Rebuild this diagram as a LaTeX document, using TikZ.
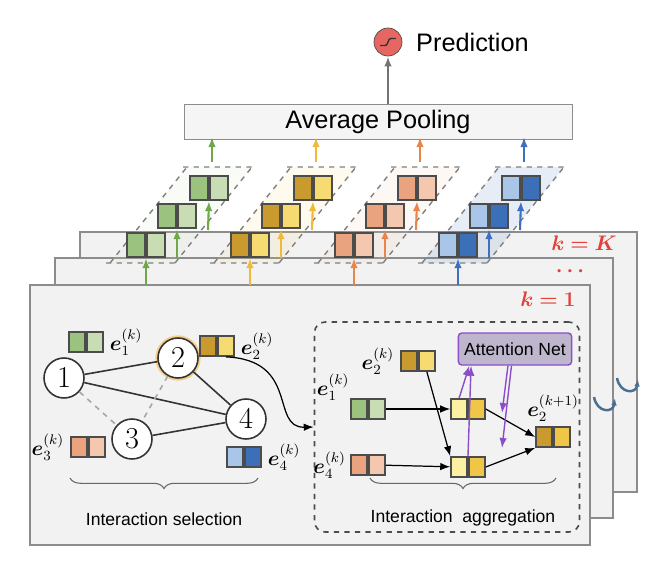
\documentclass[tikz,border=0pt]{standalone}
\usepackage{fontspec}
\setmainfont{Liberation Sans}
\usepackage{amsmath}
\usepackage{bm}
\usetikzlibrary{arrows.meta,positioning,decorations.pathreplacing}

\definecolor{grA}{HTML}{9CC27F}\definecolor{grB}{HTML}{C8DDB3}
\definecolor{ylA}{HTML}{C99A2E}\definecolor{ylB}{HTML}{F6DB72}
\definecolor{orA}{HTML}{E9A47F}\definecolor{orB}{HTML}{F3C8AE}
\definecolor{blA}{HTML}{A9C6E8}\definecolor{blB}{HTML}{3B6FB8}
\definecolor{paleY}{HTML}{FCF0A4}\definecolor{goldY}{HTML}{F0C648}
\definecolor{grArr}{HTML}{6FA84A}\definecolor{ylArr}{HTML}{F0B93A}
\definecolor{orArr}{HTML}{E8864A}\definecolor{blArr}{HTML}{3E6FC0}
\definecolor{purp}{HTML}{8A4FC8}\definecolor{attn}{HTML}{BDB6CC}
\definecolor{kred}{HTML}{E0413A}\definecolor{loopc}{HTML}{4A6F8F}

\tikzset{
  panel/.style={draw=black!45, fill=black!5, line width=0.6pt},
  cell/.style={draw=black!70, line width=1pt, minimum width=0.32cm, minimum height=0.4cm, inner sep=0pt},
  bigcell/.style={cell, line width=1.3pt, minimum width=0.36cm, minimum height=0.48cm},
  vnode/.style={circle, draw=black!80, fill=white, line width=0.9pt, minimum size=0.8cm, inner sep=0pt, font=\LARGE},
  lab/.style={font=\large},
  up/.style={-{Latex[length=2mm]}, line width=1.2pt},
  flow/.style={-{Latex[length=2mm]}, line width=0.7pt},
  attarr/.style={-{Latex[length=2mm]}, line width=0.8pt, draw=purp},
  brace/.style={decorate, decoration={brace, mirror, amplitude=6pt}, draw=black!60, line width=0.6pt}
}

% two-cell embedding: name, centre, left colour, right colour, cell style
\newcommand{\embvec}[5][cell]{%
  \node[#1, fill=#4, anchor=east] (#2-l) at (#3) {};
  \node[#1, fill=#5, right=0pt of #2-l] (#2-r) {};
}

\begin{document}
\begin{tikzpicture}[x=0.02cm, y=-0.02cm]
  \useasboundingbox (0,0) rectangle (654,566);

  % stacked layers
  \draw[panel] (80,232) rectangle (637,492);
  \draw[panel] (55,258) rectangle (613,518);
  \draw[panel] (30,285) rectangle (590,545);
  \node[text=kred, font=\large] (kK) at (584,243) {$\bm{k=K}$};
  \node[text=kred, font=\large] (kdots) at (572,272) {$\bm{\cdots}$};
  \node[text=kred, font=\large] (k1) at (548,299) {$\bm{k=1}$};

  % prediction and pooling
  \node[draw=black!45, fill=black!4, minimum width=7.76cm, minimum height=0.6cm, font=\Large] (pool) at (378,122) {Average Pooling};
  \node[circle, draw=black!70, fill=kred!80, minimum size=0.56cm, inner sep=0pt] (pred) at (388,42) {};
  \draw[black!80, line width=0.8pt] ([xshift=-4.5pt, yshift=-2pt]pred.center) -- ([xshift=-1.5pt, yshift=-2pt]pred.center)
    .. controls ([xshift=0pt, yshift=-2pt]pred.center) and ([xshift=0pt, yshift=2pt]pred.center) .. ([xshift=1.5pt, yshift=2pt]pred.center) -- ([xshift=4.5pt, yshift=2pt]pred.center);
  \node[font=\Large, anchor=west] (predtxt) at (410,42) {Prediction};
  \draw[up, black!55] (pool.north -| pred) -- (pred.south);

  % embeddings of each layer
  \foreach \c/\cl/\cr/\ca [count=\i from 0] in {g/grA/grB/grArr, y/ylA/ylB/ylArr, o/orA/orB/orArr, b/blA/blB/blArr} {
    \pgfmathsetmacro{\gx}{128+104*\i}
    \fill[\cr, opacity=0.12] (\gx-18,263) -- (\gx+47,263) -- (\gx+124,167) -- (\gx+59,167) -- cycle;
    \draw[dashed, black!50, line width=0.8pt] (\gx-22,263) -- (\gx+50,263) (\gx+55,167) -- (\gx+127,167)
      (\gx-18,263) -- (\gx+59,167) (\gx+47,263) -- (\gx+124,167);
    \embvec[bigcell]{\c1}{\gx+18,245}{\cl}{\cr}
    \embvec[bigcell]{\c2}{\gx+49,216}{\cl}{\cr}
    \embvec[bigcell]{\c3}{\gx+81,188}{\cl}{\cr}
    \coordinate (\c0) at (\gx+18,285);
    \draw[up, \ca] (\c0) -- (\c1-l.south east);
    \draw[up, \ca] (\gx+49,258) -- (\c2-l.south east);
    \draw[up, \ca] (\gx+80,230) -- (\c3-l.south east);
    \draw[up, \ca] (\gx+84,162) -- (\gx+84,137);
  }

  % interaction selection
  \node[vnode] (v1) at (64,378) {$1$};
  \node[vnode, preaction={draw=ylB!60!orange, line width=3pt, opacity=0.6}] (v2) at (178,358) {$2$};
  \node[vnode] (v3) at (132,439) {$3$};
  \node[vnode] (v4) at (246,419) {$4$};
  \draw[line width=0.9pt, black!80] (v1) -- (v2) (v1) -- (v4) (v2) -- (v4) (v3) -- (v4);
  \draw[dashed, line width=0.9pt, black!35] (v1) -- (v3) (v2) -- (v3);
  \embvec{s1}{86,342}{grA}{grB}
  \embvec{s2}{217,346}{ylA}{ylB}
  \embvec{s3}{88,447}{orA}{orB}
  \embvec{s4}{244,457}{blA}{blB}
  \node[lab, right=0pt of s1-r] (ls1) {$\bm{e}_1^{(k)}$};
  \node[lab, right=0pt of s2-r] (ls2) {$\bm{e}_2^{(k)}$};
  \node[lab, left=0pt of s3-l] (ls3) {$\bm{e}_3^{(k)}$};
  \node[lab, right=0pt of s4-r] (ls4) {$\bm{e}_4^{(k)}$};
  \coordinate (bsl) at (70,478);
  \coordinate (bsr) at (258,478);
  \draw[brace] (bsl) -- (bsr);
  \node[font=\normalsize] (selTxt) at (164,519) {Interaction selection};

  % interaction aggregation
  \node[draw=black!70, dashed, rounded corners=6pt, line width=0.9pt, minimum width=5.3cm, minimum height=4.2cm] (agg) at (447,427) {};
  \draw[flow] (s2-r.south) .. controls (300,360) and (270,428) .. (agg.west);
  \embvec{a2}{418,361}{ylA}{ylB}
  \embvec{a1}{368,409}{grA}{grB}
  \embvec{a4}{368,465}{orA}{orB}
  \node[lab, left=0pt of a2-l] (la2) {$\bm{e}_2^{(k)}$};
  \node[lab, above left=-5pt and -3pt of a1-l] (la1) {$\bm{e}_1^{(k)}$};
  \node[lab, left=-1pt of a4-l] (la4) {$\bm{e}_4^{(k)}$};
  \embvec{m1}{468,409}{paleY}{goldY}
  \embvec{m2}{468,467}{paleY}{goldY}
  \embvec{out}{553,437}{ylA}{goldY}
  \node[lab, above=-1pt of out-l.north east] (lout) {$\bm{e}_2^{(k+1)}$};
  \node[draw=purp, fill=attn, rounded corners=2pt, line width=0.8pt, minimum width=2.26cm, minimum height=0.64cm] (att) at (515,349) {Attention Net};
  \draw[flow] (a1-r) -- (m1-l);
  \draw[flow] (a4-r) -- (m2-l);
  \draw[flow] (a2-r.south) -- (m2-l.north west);
  \draw[flow] (m1-r.east) -- (out-l.west);
  \draw[flow] (m2-r.east) -- (out-l.south west);
  \draw[attarr] (m1-l.north) -- ([xshift=-26pt]att.south);
  \draw[attarr] (m2-l.north east) -- ([xshift=-25pt]att.south);
  \draw[attarr] ([xshift=-4pt]att.south) -- (502,413);
  \draw[attarr] ([xshift=-2pt]att.south) -- (502,448);
  \coordinate (bal) at (370,478);
  \coordinate (bar) at (556,478);
  \draw[brace] (bal) -- (bar);
  \node[font=\normalsize] (aggTxt) at (463,518) {Interaction\ \ aggregation};

  % recurrence marks
  \draw[-{Latex[length=1.5mm]}, line width=1.4pt, draw=loopc] (594,397) .. controls (597,413) and (613,413) .. (615,398);
  \draw[-{Latex[length=1.5mm]}, line width=1.4pt, draw=loopc] (617,378) .. controls (620,394) and (636,394) .. (638,379);
\end{tikzpicture}
\end{document}
